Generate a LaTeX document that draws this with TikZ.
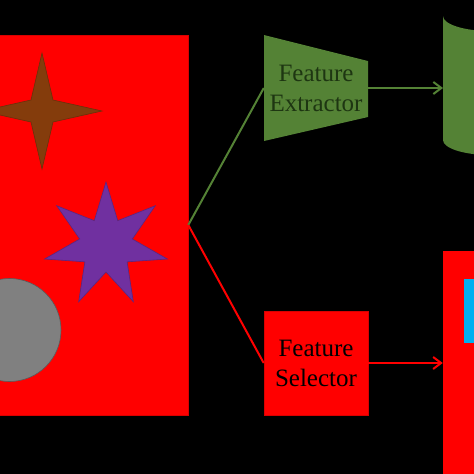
\documentclass[tikz,border=0pt]{standalone}
\usepackage{fontspec}
\setmainfont{Liberation Serif}
\usetikzlibrary{arrows.meta}
\definecolor{myred}{HTML}{FF0000}
\definecolor{mygreen}{HTML}{548235}
\definecolor{darkgreen}{HTML}{1E3612}
\definecolor{mypurple}{HTML}{7030A0}
\definecolor{mybrown}{HTML}{843C0C}
\definecolor{mygray}{HTML}{808080}
\definecolor{myblue}{HTML}{00B0F0}
\begin{document}
\begin{tikzpicture}[x=1pt,y=-1pt,
  lbl/.style={font=\fontsize{25pt}{30pt}\selectfont, align=center, inner sep=0pt},
  garrow/.style={draw=mygreen, line width=2pt, -{Straight Barb[length=8pt,width=12pt]}},
  rarrow/.style={draw=myred, line width=2pt, -{Straight Barb[length=8pt,width=12pt]}},
  gline/.style={draw=mygreen, line width=2pt},
  rline/.style={draw=myred, line width=2pt}]
\fill[black] (0,0) rectangle (474,474);
\useasboundingbox (0,0) rectangle (474,474);
\clip (0,0) rectangle (474,474);
% scene box
\node[fill=myred, draw=myred!85!black, line width=0.6pt, minimum width=198pt, minimum height=380pt, inner sep=0pt] (scene) at (89,225) {};
% brown star
\filldraw[fill=mybrown, draw=mybrown!80!black, line width=0.6pt]
  (102,111) -- (53,100) -- (42,53) -- (31,100) -- (-18,111) -- (31,122) -- (42,169) -- (53,122) -- cycle;
% purple star
\filldraw[fill=mypurple, draw=mypurple!80!black, line width=0.6pt]
  ({106+63*cos(90)},{245-63*sin(90)})
  \foreach \k in {0,...,6}{
    -- ({106+27*cos(90+\k*360/7+360/14)},{245-27*sin(90+\k*360/7+360/14)})
    -- ({106+63*cos(90+(\k+1)*360/7)},{245-63*sin(90+(\k+1)*360/7)})
  } -- cycle;
% gray circle
\filldraw[fill=mygray, draw=mygray!70!black, line width=0.6pt] (9.5,330) circle (51.5);
% feature extractor
\fill[mygreen] (264,35) -- (368,61) -- (368,117) -- (264,141) -- cycle;
\node[lbl, text=darkgreen, minimum width=104pt, minimum height=106pt] (ext) at (316,88) {Feature\\Extractor};
% feature selector
\node[lbl, fill=myred, draw=myred!85!black, line width=0.6pt, minimum width=104pt, minimum height=104pt, text=black] (sel) at (316,363) {Feature\\Selector};
% green cylinder
\fill[mygreen] (443,16) -- (443,140) arc (180:0:47 and 15) -- (537,16) arc (0:180:47 and 15) -- cycle;
\coordinate (feat) at (443,88);
% right red box
\node[fill=myred, minimum width=62pt, minimum height=250pt, inner sep=0pt] (clf) at (474,376) {};
\node[fill=myblue, minimum width=30pt, minimum height=64pt, inner sep=0pt] (blu) at (479,311) {};
% connectors
\draw[gline] (scene.east) -- (ext.west);
\draw[rline] (scene.east) -- (sel.west);
\draw[garrow] (ext.east) -- (ext.east -| feat);
\draw[rarrow] (sel.east) -- (sel.east -| clf.west);
\end{tikzpicture}
\end{document}
